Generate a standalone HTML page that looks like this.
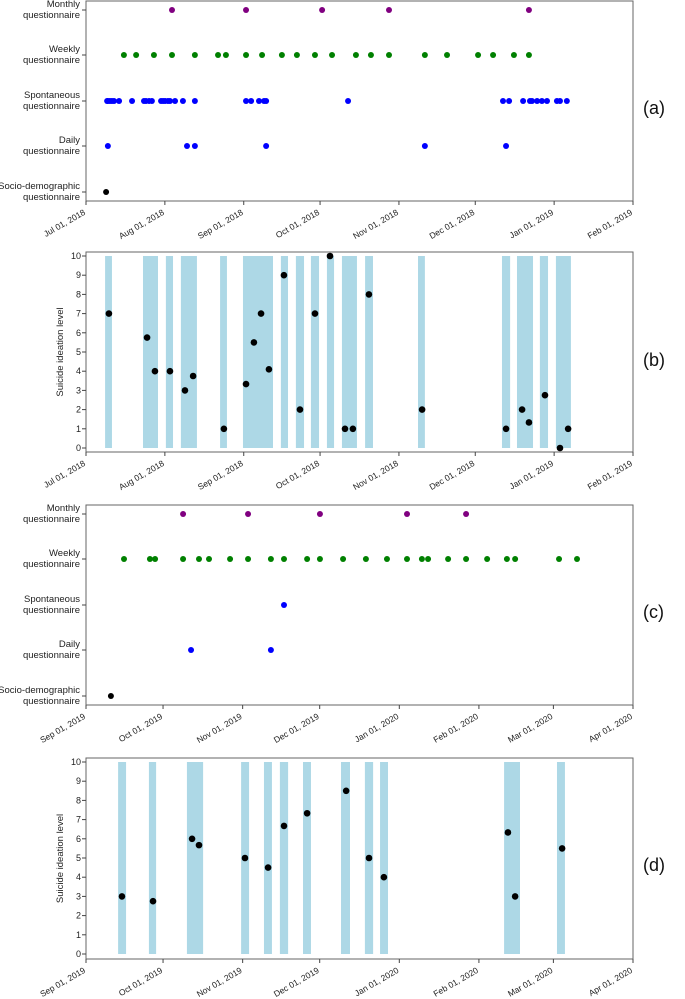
<!DOCTYPE html>
<html><head><meta charset="utf-8">
<style>
body{margin:0;background:#fff;width:685px;height:999px;overflow:hidden;font-family:"Liberation Sans",sans-serif}
svg{display:block}
</style></head>
<body>
<svg id="fig" width="685" height="999" viewBox="0 0 685 999" xmlns="http://www.w3.org/2000/svg"></svg>
<script>
// ---- data (days since axis start) ----
const catLabels = [["Socio-demographic","questionnaire"],["Daily","questionnaire"],["Spontaneous","questionnaire"],["Weekly","questionnaire"],["Monthly","questionnaire"]];
const ticksA = ["Jul 01, 2018","Aug 01, 2018","Sep 01, 2018","Oct 01, 2018","Nov 01, 2018","Dec 01, 2018","Jan 01, 2019","Feb 01, 2019"];
const tickDaysA = [0,31,62,92,123,153,184,215];
const ticksC = ["Sep 01, 2019","Oct 01, 2019","Nov 01, 2019","Dec 01, 2019","Jan 01, 2020","Feb 01, 2020","Mar 01, 2020","Apr 01, 2020"];
const tickDaysC = [0,30,61,91,122,153,182,213];
const yTicks = [0,1,2,3,4,5,6,7,8,9,10];

const aMonthly = [33.8,62.9,92.8,119.1,174.1];
const aWeekly = [14.9,19.7,26.7,33.8,42.8,51.9,55.0,62.9,69.2,77.0,82.9,90.0,96.7,106.1,112.0,119.1,133.2,141.9,154.1,160.0,168.2,174.1];
const aSpont = [8.3,8.6,9.4,10.2,11.0,13.0,18.1,22.8,23.6,24.8,25.9,29.5,30.3,31.1,32.2,33.0,35.0,38.1,42.8,62.9,64.9,68.0,70.0,70.8,103.0,163.9,166.3,171.8,174.5,175.3,177.3,179.2,181.2,185.1,186.3,189.0];
const aDaily = [8.6,39.7,42.8,70.8,133.2,165.1];
const aSocio = [7.9];

const bBarStart = [7.5,22.4,31.4,37.3,52.7,61.7,76.6,82.5,88.4,94.7,100.6,109.7,130.5,163.5,169.4,178.4,184.7];
const bBarEnd = [10.2,28.3,34.2,43.6,55.4,73.5,79.4,85.7,91.6,97.5,106.5,112.8,133.2,166.7,175.7,181.6,190.6];
const bDays = [9.0,24.0,27.1,33.0,38.9,42.1,54.2,62.9,66.0,68.8,71.9,77.8,84.1,90.0,95.9,101.8,104.9,111.2,132.1,165.1,171.4,174.1,180.4,186.3,189.5];
const bLevels = [7,5.75,4,4,3,3.75,1,3.33,5.5,7,4.1,9,2,7,10,1,1,8,2,1,2,1.33,2.75,0,1];

const cMonthly = [37.8,63.1,91.1,125.0,148.0];
const cWeekly = [14.8,24.9,26.9,37.8,44.0,47.9,56.1,63.1,72.0,77.1,86.1,91.1,100.1,109.0,117.2,125.0,130.8,133.2,141.0,148.0,156.2,163.9,167.1,184.2,191.2];
const cSpont = [77.1];
const cDaily = [40.9,72.0];
const cSocio = [9.7];

const dBarStart = [12.5,24.5,39.3,60.4,69.3,75.5,84.5,99.3,108.6,114.5,162.8,183.4];
const dBarEnd = [15.6,27.3,45.6,63.5,72.4,78.7,87.6,102.8,111.8,117.6,169.0,186.5];
const dDays = [14.0,26.1,41.3,44.0,61.9,70.9,77.1,86.1,101.3,110.2,116.0,164.3,167.1,185.4];
const dLevels = [3,2.75,6,5.67,5,4.5,6.67,7.33,8.5,5,4,6.33,3,5.5];

// ---- drawing ----
const NS="http://www.w3.org/2000/svg";
const svg=document.getElementById('fig');
function mk(tag,attrs,parent){const e=document.createElementNS(NS,tag);for(const k in attrs)e.setAttribute(k,attrs[k]);(parent||svg).appendChild(e);return e;}
const L=86,R=633;

function frame(g,top,bot,ticks,tickDays,span){
  const xs=d=>L+(R-L)*d/span;
  const r=mk('rect',{x:L,y:top,width:R-L,height:bot-top,fill:'none',stroke:'#666','stroke-width':1},g);
  
  
  ticks.forEach((t,i)=>{
    const x=xs(tickDays[i]);
    mk('line',{x1:x,y1:bot,x2:x,y2:bot+4,stroke:'#444','stroke-width':1},g);
    const tx=mk('text',{x:x,y:bot+13,'font-size':'8.5','text-anchor':'end',fill:'#222',transform:`rotate(-30 ${x} ${bot+13})`},g);
    tx.textContent=t;
    
    
  });
  return xs;
}

function timeline(name,top,bot,ticks,tickDays,span,series,label,labelY){
  const g=mk('g',{});
  
  
  const xs=frame(g,top,bot,ticks,tickDays,span);
  const rowY=[bot-9,bot-55,bot-100,bot-146,bot-191];
  catLabels.forEach((lb,i)=>{
    const y=rowY[i];
    mk('line',{x1:L-4,y1:y,x2:L,y2:y,stroke:'#444'},g);
    const t=mk('text',{x:80,y:y-3,'font-size':'9.5','text-anchor':'end',fill:'#222'},g);
    t.textContent=lb[0];
    
    
    const t2=mk('text',{x:80,y:y+8,'font-size':'9.5','text-anchor':'end',fill:'#222'},g);
    t2.textContent=lb[1];
    
    
  });
  const colors=['#000','#0000ff','#0000ff','#008000','#800080'];
  series.forEach((arr,i)=>{
    arr.forEach(d=>{
      const c=mk('circle',{cx:xs(d),cy:rowY[i],r:3,fill:colors[i]},g);
      
      
    });
  });
  const pl=mk('text',{x:643,y:labelY,'font-size':'18',fill:'#111'},g);
  pl.textContent=label;
  
  
}

function ideation(name,top,bot,y0,y10,ticks,tickDays,span,bs,be,days,levels,label,labelY){
  const g=mk('g',{});
  
  
  const xs=(d)=>L+(R-L)*d/span;
  const ys=v=>y0+(y10-y0)*v/10;
  bs.forEach((s,i)=>{
    const r=mk('rect',{x:xs(s),y:ys(10),width:xs(be[i])-xs(s),height:ys(0)-ys(10),fill:'#add8e6'},g);
    
    
  });
  frame(g,top,bot,ticks,tickDays,span);
  yTicks.forEach(v=>{
    const y=ys(v);
    mk('line',{x1:L-4,y1:y,x2:L,y2:y,stroke:'#444'},g);
    const t=mk('text',{x:81,y:y+3,'font-size':'9','text-anchor':'end',fill:'#222'},g);
    t.textContent=v;
    
    
  });
  const cy=(top+bot)/2;
  const yl=mk('text',{x:63,y:cy,'font-size':'9.5','text-anchor':'middle',fill:'#222',transform:`rotate(-90 63 ${cy})`},g);
  yl.textContent='Suicide ideation level';
  
  
  days.forEach((d,i)=>{
    const c=mk('circle',{cx:xs(d),cy:ys(levels[i]),r:3.3,fill:'#000'},g);
    
    
  });
  const pl=mk('text',{x:643,y:labelY,'font-size':'18',fill:'#111'},g);
  pl.textContent=label;
  
  
}

timeline('panel-a-timeline',1,201,ticksA,tickDaysA,215,[aSocio,aDaily,aSpont,aWeekly,aMonthly],'(a)',114);
ideation('panel-b-ideation',252,452,448,256,ticksA,tickDaysA,215,bBarStart,bBarEnd,bDays,bLevels,'(b)',366);
timeline('panel-c-timeline',505,705,ticksC,tickDaysC,213,[cSocio,cDaily,cSpont,cWeekly,cMonthly],'(c)',618);
ideation('panel-d-ideation',758,959,954,762,ticksC,tickDaysC,213,dBarStart,dBarEnd,dDays,dLevels,'(d)',871);
</script>
</body></html>
